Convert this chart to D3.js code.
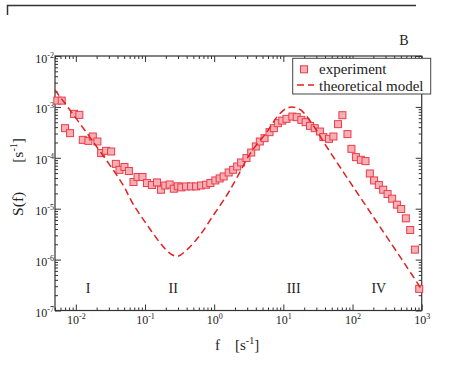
<!DOCTYPE html>
<html>
<head>
<meta charset="utf-8">
<script src="https://cdn.jsdelivr.net/npm/d3@7"></script>
<style>
  body { margin: 0; background: #fff; }
  text { font-family: "Liberation Serif", "Times New Roman", serif; fill: #222; }
</style>
</head>
<body>
<script>
// Experimental spectrum (frequency in s^-1, S(f) in s^-1)
var expFreq = [0.0054, 0.00625, 0.00698, 0.00826, 0.00942, 0.01125, 0.0126, 0.0152, 0.0176, 0.0205,
    0.0232, 0.0274, 0.0324, 0.0379, 0.0428, 0.0505, 0.0585, 0.0682, 0.078, 0.092,
    0.1067, 0.126, 0.149, 0.170, 0.196, 0.227, 0.261, 0.298, 0.335, 0.392,
    0.463, 0.547, 0.647, 0.764, 0.881, 1.04, 1.20, 1.37, 1.62, 1.88,
    2.15, 2.45, 2.93, 3.43, 4.00, 4.57, 5.35, 6.31, 7.29, 8.34,
    9.64, 11.1, 13.5, 15.6, 18.2, 21.0, 24.3, 28.4, 33.8, 37.9,
    45.7, 52.9, 61.7, 71.4, 84.5, 96.4, 112, 132, 154, 178,
    205, 240, 277, 321, 374, 438, 505, 590, 682, 798, 921];
var expPower = [1.33e-3, 1.33e-3, 3.82e-4, 3.05e-4, 7.3e-4, 6.97e-4, 2.25e-4, 2.15e-4, 2.62e-4, 2.09e-4,
    1.24e-4, 1.37e-4, 1.33e-4, 7.6e-5, 5.8e-5, 6.6e-5, 5.5e-5, 3.34e-5, 4.19e-5, 4.19e-5,
    3.19e-5, 2.92e-5, 3.28e-5, 2.36e-5, 2.86e-5, 2.99e-5, 2.47e-5, 2.76e-5, 2.62e-5, 2.74e-5,
    2.74e-5, 2.74e-5, 2.86e-5, 2.96e-5, 3.19e-5, 3.59e-5, 3.93e-5, 4.30e-5, 5.15e-5, 5.82e-5,
    6.75e-5, 8.09e-5, 9.87e-5, 1.27e-4, 1.67e-4, 2.09e-4, 2.43e-4, 3.19e-4, 3.82e-4, 4.79e-4,
    5.38e-4, 5.82e-4, 6.46e-4, 6.28e-4, 5.56e-4, 5.01e-4, 4.24e-4, 3.82e-4, 3.28e-4, 2.55e-4,
    2.36e-4, 2.62e-4, 4.58e-4, 6.87e-4, 2.92e-4, 1.50e-4, 1.03e-4, 9.14e-5, 8.61e-5, 4.92e-5,
    3.59e-5, 2.92e-5, 2.36e-5, 1.94e-5, 1.57e-5, 1.20e-5, 9.86e-6, 6.46e-6, 3.82e-6, 1.57e-6, 2.66e-7];

// Theoretical model curve
var modelFreq = [0.005, 0.017, 0.0463, 0.0682, 0.1067, 0.166, 0.232, 0.296, 0.406, 0.631,
    0.984, 1.54, 2.15, 3.35, 5.85, 8.17, 10.8, 13.2, 17.8, 27.7,
    38.6, 75.3, 147, 286, 558, 1000];
var modelPower = [2.15e-3, 2.25e-4, 3.19e-5, 1.20e-5, 4.85e-6, 2.12e-6, 1.31e-6, 1.16e-6, 1.57e-6, 3.09e-6,
    7.62e-6, 1.88e-5, 4.15e-5, 1.24e-4, 3.28e-4, 6.46e-4, 9.2e-4, 1.0e-3, 8.73e-4, 4.11e-4,
    2.0e-4, 5.01e-5, 1.29e-5, 3.34e-6, 8.61e-7, 2.58e-7];

// Axis decades and regime labels
var xDecades = [-2, -1, 0, 1, 2, 3];
var yDecades = [-7, -6, -5, -4, -3, -2];
var regionNames = ["I", "II", "III", "IV"];
var regionFreq = [0.015, 0.256, 14.1, 240];

var width = 474, height = 366;
var plotLeft = 55, plotRight = 421.7, plotTop = 56, plotBottom = 310.5;

var svg = d3.select("body").append("svg")
    .attr("width", width)
    .attr("height", height);

svg.append("rect").attr("width", width).attr("height", height).attr("fill", "#fff");

// corner fragment of the outer frame
svg.append("path")
    .attr("d", "M7.5,15V5.5H416")
    .attr("fill", "none")
    .attr("stroke", "#333")
    .attr("stroke-width", 1.5);

var x = d3.scaleLog().domain([0.005, 1000]).range([plotLeft, plotRight]);
var y = d3.scaleLog().domain([1e-7, 1e-2]).range([plotBottom, plotTop]);

// minor tick positions (2..9 in each decade inside the domain)
function minors(scale) {
    var d = scale.domain(), out = [];
    for (var e = -8; e <= 3; e++) {
        for (var m = 2; m <= 9; m++) {
            var v = m * Math.pow(10, e);
            if (v >= d[0] * 0.999 && v <= d[1] * 1.001) out.push(v);
        }
    }
    return out;
}
var xMajor = xDecades.map(function(e) { return Math.pow(10, e); });
var yMajor = yDecades.map(function(e) { return Math.pow(10, e); });

function styleAxis(g) {
    g.select(".domain").remove();
    g.selectAll("line").attr("stroke", "#333");
}

function supLabel(g, exps) {
    g.selectAll("text").each(function(d, i) {
        var t = d3.select(this).text(null).attr("font-size", 12).attr("fill", "#222");
        t.append("tspan").text("10");
        t.append("tspan").attr("font-size", 8).attr("dy", -5).text(exps[i]);
    });
}

// bottom axis
svg.append("g").attr("transform", "translate(0," + plotBottom + ")")
    .call(d3.axisBottom(x).tickValues(minors(x)).tickSize(-3).tickFormat(""))
    .call(styleAxis);
svg.append("g").attr("transform", "translate(0," + plotBottom + ")")
    .call(d3.axisBottom(x).tickValues(xMajor).tickSize(-6).tickPadding(5))
    .call(styleAxis)
    .call(supLabel, xDecades);

// top axis
svg.append("g").attr("transform", "translate(0," + plotTop + ")")
    .call(d3.axisTop(x).tickValues(minors(x)).tickSize(-3).tickFormat(""))
    .call(styleAxis);
svg.append("g").attr("transform", "translate(0," + plotTop + ")")
    .call(d3.axisTop(x).tickValues(xMajor).tickSize(-6).tickFormat(""))
    .call(styleAxis);

// left axis
svg.append("g").attr("transform", "translate(" + plotLeft + ",0)")
    .call(d3.axisLeft(y).tickValues(minors(y)).tickSize(-3).tickFormat(""))
    .call(styleAxis);
svg.append("g").attr("transform", "translate(" + plotLeft + ",0)")
    .call(d3.axisLeft(y).tickValues(yMajor).tickSize(-6).tickPadding(1))
    .call(styleAxis)
    .call(supLabel, yDecades)
    .selectAll("text").attr("dy", "0.5em");

// right axis
svg.append("g").attr("transform", "translate(" + plotRight + ",0)")
    .call(d3.axisRight(y).tickValues(minors(y)).tickSize(-3).tickFormat(""))
    .call(styleAxis);
svg.append("g").attr("transform", "translate(" + plotRight + ",0)")
    .call(d3.axisRight(y).tickValues(yMajor).tickSize(-6).tickFormat(""))
    .call(styleAxis);

// plot frame
svg.append("rect")
    .attr("x", plotLeft).attr("y", plotTop)
    .attr("width", plotRight - plotLeft).attr("height", plotBottom - plotTop)
    .attr("fill", "none")
    .attr("stroke", "#333")
    .attr("stroke-width", 1.2);

// experiment squares
var pts = expFreq.map(function(f, i) { return [f, expPower[i]]; });
svg.append("g").selectAll("rect")
    .data(pts)
    .enter().append("rect")
        .attr("x", function(d) { return x(d[0]) - 3.5; })
        .attr("y", function(d) { return y(d[1]) - 3.5; })
        .attr("width", 7)
        .attr("height", 7)
        .attr("fill", "#f6b0b4")
        .attr("stroke", "#ec3b4b")
        .attr("stroke-width", 1);

// theoretical model
var modelPts = modelFreq.map(function(f, i) { return [f, modelPower[i]]; });
svg.append("path")
    .datum(modelPts)
    .attr("fill", "none")
    .attr("stroke", "#e1201f")
    .attr("stroke-width", 1.5)
    .attr("stroke-dasharray", "7,4")
    .attr("d", d3.line()
        .x(function(d) { return x(d[0]); })
        .y(function(d) { return y(d[1]); })
        .curve(d3.curveCatmullRom.alpha(0.5)));

// regime labels
svg.append("g").selectAll("text")
    .data(regionNames)
    .enter().append("text")
        .attr("x", function(d, i) { return x(regionFreq[i]); })
        .attr("y", y(2.25e-7))
        .attr("text-anchor", "middle")
        .attr("font-size", 14)
        .text(function(d) { return d; });

// legend
var legend = svg.append("g");
legend.append("rect")
    .attr("x", 292.7).attr("y", 58.3)
    .attr("width", 138).attr("height", 35.7)
    .attr("fill", "#fff")
    .attr("stroke", "#444")
    .attr("stroke-width", 1);
legend.append("rect")
    .attr("x", 300.5).attr("y", 65.8)
    .attr("width", 7).attr("height", 7)
    .attr("fill", "#f6b0b4")
    .attr("stroke", "#ec3b4b");
legend.append("line")
    .attr("x1", 297).attr("x2", 314)
    .attr("y1", 85).attr("y2", 85)
    .attr("stroke", "#e1201f")
    .attr("stroke-width", 1.5)
    .attr("stroke-dasharray", "7,4");
legend.append("text").attr("x", 319).attr("y", 73.5).attr("font-size", 15).text("experiment");
legend.append("text").attr("x", 319).attr("y", 90.5).attr("font-size", 15).text("theoretical model");

// panel letter
svg.append("text").attr("x", 404).attr("y", 45)
    .attr("text-anchor", "middle").attr("font-size", 14).text("B");

// x title
var xt = svg.append("text").attr("x", 215).attr("y", 350).attr("font-size", 15);
xt.append("tspan").text("f");
xt.append("tspan").attr("dx", 15).text("[s");
xt.append("tspan").attr("font-size", 10).attr("dy", -6).text("-1");
xt.append("tspan").attr("dy", 6).text("]");

// y title
var yt = svg.append("text")
    .attr("transform", "translate(23,177) rotate(-90)")
    .attr("text-anchor", "middle")
    .attr("font-size", 15.5);
yt.append("tspan").text("S(f)");
yt.append("tspan").attr("dx", 29).text("[s");
yt.append("tspan").attr("font-size", 10).attr("dy", -6).text("-1");
yt.append("tspan").attr("dy", 6).text("]");
</script>
</body>
</html>
